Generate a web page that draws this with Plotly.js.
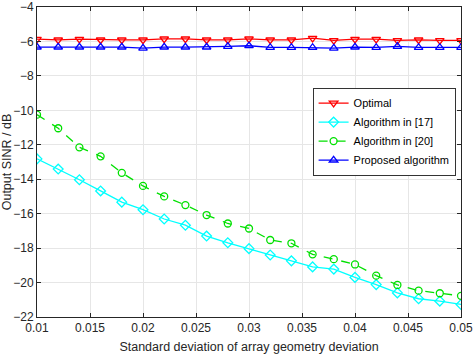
<!DOCTYPE html>
<html><head><meta charset="utf-8">
<script src="https://cdn.plot.ly/plotly-3.0.1.min.js"></script>
<style>html,body{margin:0;padding:0;background:#fff}#c{width:474px;height:354px}</style>
</head><body><div id="c"></div>
<script>
const xVals = [0.01,0.012,0.014,0.016,0.018,0.02,0.022,0.024,0.026,0.028,0.03,0.032,0.034,0.036,0.038,0.04,0.042,0.044,0.046,0.048,0.05];
const optimal = [-5.87,-5.91,-5.87,-5.91,-5.91,-5.91,-5.85,-5.85,-5.91,-5.91,-5.85,-5.91,-5.91,-5.81,-5.94,-5.87,-5.87,-5.94,-5.91,-5.94,-5.94];
const alg17 = [-12.82,-13.41,-14.03,-14.68,-15.33,-15.77,-16.31,-16.67,-17.30,-17.69,-18.03,-18.40,-18.74,-19.09,-19.22,-19.70,-20.12,-20.60,-20.94,-21.08,-21.27];
const alg20 = [-10.25,-11.04,-12.15,-12.67,-13.63,-14.39,-15.00,-15.50,-16.08,-16.57,-16.86,-17.53,-17.72,-18.36,-18.64,-18.95,-19.60,-20.14,-20.47,-20.62,-20.77];
const proposed = [-6.33,-6.33,-6.33,-6.33,-6.33,-6.39,-6.33,-6.33,-6.33,-6.29,-6.25,-6.35,-6.35,-6.35,-6.39,-6.33,-6.35,-6.29,-6.35,-6.35,-6.35];
const names = ["Optimal","Algorithm in [17]","Algorithm in [20]","Proposed algorithm"];
const xTicks = [0.01,0.015,0.02,0.025,0.03,0.035,0.04,0.045,0.05];
const xTickText = ["0.01","0.015","0.02","0.025","0.03","0.035","0.04","0.045","0.05"];
const yTicks = [-22,-20,-18,-16,-14,-12,-10,-8,-6,-4];

const traces = [
  {x:xVals,y:optimal,name:names[0],mode:'lines+markers',line:{color:'#ff0000',width:1.3},marker:{symbol:'triangle-down-open',size:7.5,color:'#ff0000',line:{width:1.3}}},
  {x:xVals,y:alg17,name:names[1],mode:'lines+markers',line:{color:'#00ffff',width:1.3},marker:{symbol:'diamond-open',size:7.5,color:'#00ffff',line:{width:1.3}}},
  {x:xVals,y:alg20,name:names[2],mode:'lines+markers',line:{color:'#00e000',width:1.3,dash:'dash'},marker:{symbol:'circle-open',size:7,color:'#00e000',line:{width:1.3}}},
  {x:xVals,y:proposed,name:names[3],mode:'lines+markers',line:{color:'#0000ff',width:1.3},marker:{symbol:'triangle-up-open',size:7.5,color:'#0000ff',line:{width:1.3}}}
];
const layout = {
  width:474,height:354,
  margin:{l:37,r:13,t:7,b:37},
  paper_bgcolor:'#fff',plot_bgcolor:'#fff',
  font:{family:'Liberation Sans, Arial, sans-serif',size:12,color:'#262626'},
  showlegend:true,
  legend:{x:0.65,y:0.74,xanchor:'left',yanchor:'top',bgcolor:'#fff',bordercolor:'#333',borderwidth:1,font:{size:11,color:'#000'},tracegroupgap:0,itemwidth:30},
  xaxis:{range:[0.01,0.05],tickvals:xTicks,ticktext:xTickText,ticklabeloverflow:'allow',showgrid:true,gridcolor:'#e6e6e6',zeroline:false,ticks:'inside',ticklen:4,tickcolor:'#262626',showline:true,linecolor:'#262626',linewidth:1,mirror:'ticks',
    title:{text:'Standard deviation of array geometry deviation',standoff:7,font:{size:12.5,color:'#262626'}}},
  yaxis:{range:[-22,-4],tickvals:yTicks,ticklabeloverflow:'allow',showgrid:true,gridcolor:'#e6e6e6',zeroline:false,ticks:'inside',ticklen:4,tickcolor:'#262626',showline:true,linecolor:'#262626',linewidth:1,mirror:'ticks',
    title:{text:'Output SINR / dB',standoff:6,font:{size:12.5,color:'#262626'}}}
};
Plotly.newPlot('c',traces,layout,{staticPlot:true,displayModeBar:false});
</script></body></html>
